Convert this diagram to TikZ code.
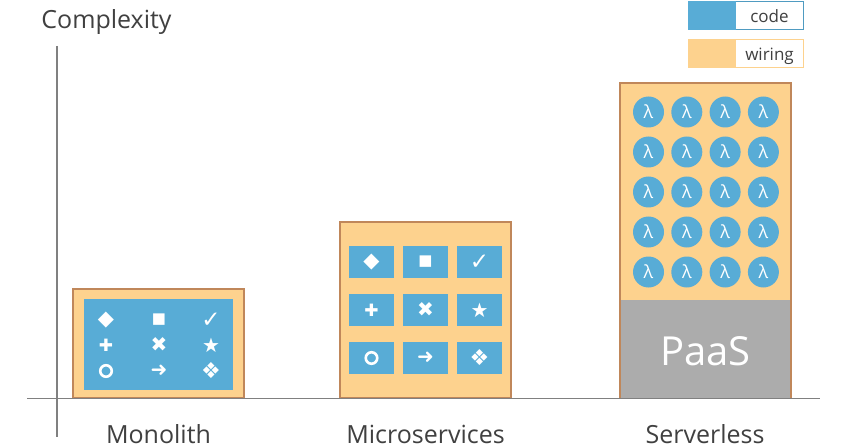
\documentclass[tikz,border=0pt]{standalone}
\usepackage{fontspec}
\setmainfont{Open Sans}
\newfontfamily\iconfont{DejaVu Sans}
\usetikzlibrary{positioning}

\definecolor{codeblue}{HTML}{58ACD6}
\definecolor{wiringorange}{HTML}{FDD28E}
\definecolor{wiringedge}{HTML}{C0875A}
\definecolor{paasgray}{HTML}{ACACAC}
\definecolor{axisgray}{HTML}{808080}
\definecolor{labelgray}{HTML}{404040}

\begin{document}
\begin{tikzpicture}
			[x=1pt,y=-1pt,on grid,inner sep=0pt,outer sep=0pt,
			wiring/.style={rectangle,draw=wiringedge,fill=wiringorange,line width=2pt,minimum width=171pt},
			code/.style={rectangle,fill=codeblue,minimum width=45pt,minimum height=32pt,text=white},
			icon/.style={text=white,font=\iconfont\fontsize{#1pt}{#1pt}\selectfont},
			diamondicon/.style={icon=21},
			squareicon/.style={icon=15},
			checkicon/.style={icon=23},
			plusicon/.style={icon=17},
			crossicon/.style={icon=20},
			staricon/.style={icon=20},
			ringicon/.style={circle,draw=white,line width=2.6pt,minimum size=11.5pt},
			arrowicon/.style={icon=20},
			tileicon/.style={icon=22},
			lambda/.style={circle,fill=codeblue,minimum size=31pt,text=white,font=\fontsize{18pt}{18pt}\selectfont},
			caption/.style={text=labelgray,font=\fontsize{25pt}{25pt}\selectfont},
			legendbox/.style={rectangle,draw=#1,fill=white,line width=1pt,minimum width=115pt,minimum height=28pt},
			swatch/.style={rectangle,fill=#1,minimum width=48pt,minimum height=29pt},
			legendtext/.style={text=labelgray,font=\fontsize{17pt}{17pt}\selectfont,anchor=base},
			axis/.style={draw=axisgray,line width=1.8pt}]

			\useasboundingbox (0,0) rectangle (850,446);

			% legend
			\node [legendbox=codeblue!90!black](lcode) at (746,15.5) {};
			\node [swatch=codeblue](scode) at (712,15.5) {};
			\node [legendtext](tcode) at (769.5,22.5) {code};
			\node [legendbox=wiringorange](lwiring) [below=38pt of lcode] {};
			\node [swatch=wiringorange](swiring) [below=38pt of scode] {};
			\node [legendtext](twiring) at (769.5,60.5) {wiring};

			% monolith
			\node [wiring, minimum height=109pt](mono) at (158.5,343.5) {};
			\node [code, minimum width=149pt, minimum height=91pt](monocode) at (158.5,344.5) {};
			\node [diamondicon](ma) at (106,320) {◆};
			\node [squareicon](mb) [right=53pt of ma] {■};
			\node [checkicon](mc) [right=52pt of mb] {✓};
			\node [plusicon](md) [below=25pt of ma] {✚};
			\node [crossicon](me) [right=53pt of md] {✖};
			\node [staricon](mf) [right=52pt of me] {★};
			\node [ringicon](mg) [below=26pt of md] {};
			\node [arrowicon](mh) [right=53pt of mg] {➜};
			\node [tileicon](mi) [right=52pt of mh] {❖};

			% microservices
			\node [wiring, minimum height=176pt](micro) at (425.5,310) {};
			\node [code](c1) at (371.5,262) {};
			\node [code](c2) [right=54pt of c1] {};
			\node [code](c3) [right=54pt of c2] {};
			\node [code](c4) [below=48pt of c1] {};
			\node [code](c5) [right=54pt of c4] {};
			\node [code](c6) [right=54pt of c5] {};
			\node [code](c7) [below=48pt of c4] {};
			\node [code](c8) [right=54pt of c7] {};
			\node [code](c9) [right=54pt of c8] {};
			\node [diamondicon] at (c1) {◆};
			\node [squareicon] at (c2) {■};
			\node [checkicon] at (c3) {✓};
			\node [plusicon] at (c4) {✚};
			\node [crossicon] at (c5) {✖};
			\node [staricon] at (c6) {★};
			\node [ringicon] at (c7) {};
			\node [arrowicon] at (c8) {➜};
			\node [tileicon] at (c9) {❖};

			% serverless
			\node [wiring, minimum height=315pt](server) at (705.5,240.5) {};
			\node [rectangle, fill=paasgray, minimum width=169pt, minimum height=98pt](paas) at (705.5,349) {};
			\node [text=white, anchor=base, font=\fontsize{40pt}{40pt}\selectfont](paastext) at (705.5,365) {PaaS};
			\node [lambda](l11) at (648.5,112) {λ};
			\node [lambda](l12) [right=38.3pt of l11] {λ};
			\node [lambda](l13) [right=38.3pt of l12] {λ};
			\node [lambda](l14) [right=38.3pt of l13] {λ};
			\node [lambda](l21) [below=40pt of l11] {λ};
			\node [lambda](l22) [right=38.3pt of l21] {λ};
			\node [lambda](l23) [right=38.3pt of l22] {λ};
			\node [lambda](l24) [right=38.3pt of l23] {λ};
			\node [lambda](l31) [below=40pt of l21] {λ};
			\node [lambda](l32) [right=38.3pt of l31] {λ};
			\node [lambda](l33) [right=38.3pt of l32] {λ};
			\node [lambda](l34) [right=38.3pt of l33] {λ};
			\node [lambda](l41) [below=40pt of l31] {λ};
			\node [lambda](l42) [right=38.3pt of l41] {λ};
			\node [lambda](l43) [right=38.3pt of l42] {λ};
			\node [lambda](l44) [right=38.3pt of l43] {λ};
			\node [lambda](l51) [below=40pt of l41] {λ};
			\node [lambda](l52) [right=38.3pt of l51] {λ};
			\node [lambda](l53) [right=38.3pt of l52] {λ};
			\node [lambda](l54) [right=38.3pt of l53] {λ};

			% axes
			\coordinate (xstart) at (27,398.5);
			\coordinate (xend) at (820,398.5);
			\coordinate (ytop) at (57,46);
			\coordinate (ybottom) at (57,437);
			\draw [axis] (xstart) -- (xend);
			\draw [axis] (ytop) -- (ybottom);

			% captions
			\node [caption, anchor=base](monolabel) at (158.5,443) {Monolith};
			\node [caption, anchor=base](microlabel) at (425.5,443) {Microservices};
			\node [caption, anchor=base](serverlabel) at (705,443) {Serverless};
			\node [caption, anchor=base](ylabel) at (106.5,29) {Complexity};
\end{tikzpicture}
\end{document}
